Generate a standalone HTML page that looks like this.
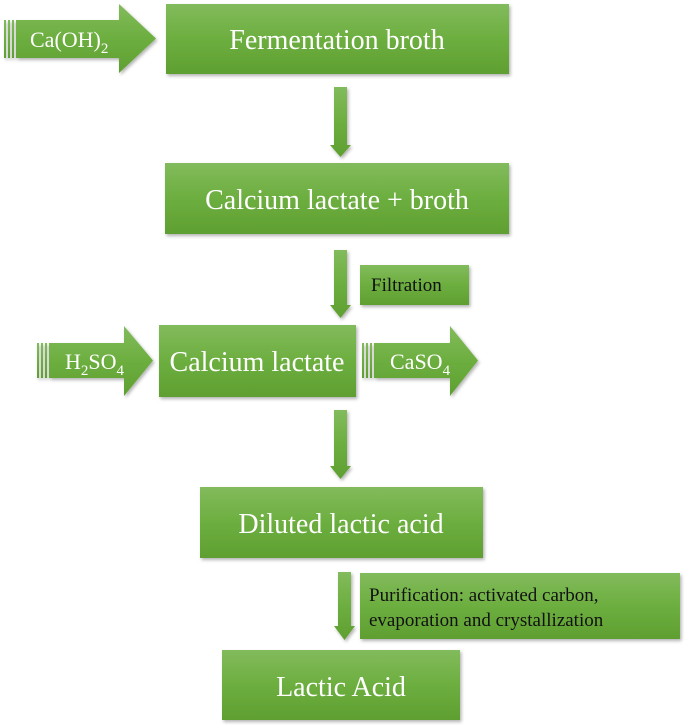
<!DOCTYPE html>
<html><head><meta charset="utf-8"><style>
html,body{margin:0;padding:0;background:#fff;}
svg{display:block;}
</style></head><body>
<svg width="685" height="725" viewBox="0 0 685 725" xmlns="http://www.w3.org/2000/svg">
<defs>
<linearGradient id="g" x1="0" y1="0" x2="0" y2="1">
<stop offset="0" stop-color="#82bb5c"/><stop offset="0.5" stop-color="#6cae3f"/><stop offset="1" stop-color="#5f9f31"/>
</linearGradient>
<filter id="s" x="-10%" y="-10%" width="125%" height="130%"><feDropShadow dx="1.5" dy="2" stdDeviation="1.5" flood-color="#000" flood-opacity="0.3"/></filter>
</defs>
<g fill="url(#g)" filter="url(#s)">
<rect x="166" y="4" width="343" height="70"/>
<rect x="165" y="163" width="344" height="71"/>
<rect x="159" y="325" width="197" height="72"/>
<rect x="200" y="487" width="283" height="71"/>
<rect x="222" y="650" width="238" height="70"/>
<rect x="360" y="265" width="109" height="40"/>
<rect x="360" y="573" width="320" height="66"/>
<polygon points="334,87 347,87 347,145 351,145 340.5,157 330,145 334,145"/>
<polygon points="334,250 347,250 347,305 351,305 340.5,318 330,305 334,305"/>
<polygon points="334,410 347,410 347,466 351,466 340.5,479 330,466 334,466"/>
<polygon points="338,572 351,572 351,626 355,626 344.5,640 334,626 338,626"/>
<g>
<rect x="4" y="20" width="2" height="38"/><rect x="8" y="20" width="2" height="38"/><rect x="12" y="20" width="2" height="38"/>
<polygon points="16,20 119,20 119,4 156,38.5 119,73 119,58 16,58"/>
</g>
<g>
<rect x="37" y="343" width="2" height="35"/><rect x="41" y="343" width="2" height="35"/><rect x="45" y="343" width="2" height="35"/>
<polygon points="49,343 124,343 124,326 153,360.5 124,396 124,378 49,378"/>
</g>
<g>
<rect x="362" y="343" width="2" height="35"/><rect x="366" y="343" width="2" height="35"/><rect x="370" y="343" width="2" height="35"/>
<polygon points="374,343 450,343 450,326 478,360.5 450,396 450,378 374,378"/>
</g>
</g>
<g fill="#fff" font-size="28" text-anchor="middle" font-family="'Liberation Serif','Times New Roman',serif">
<text x="337" y="49">Fermentation broth</text>
<text x="337" y="209">Calcium lactate + broth</text>
<text x="257" y="371">Calcium lactate</text>
<text x="341" y="533">Diluted lactic acid</text>
<text x="341" y="696">Lactic Acid</text>
</g>
<g fill="#fff" font-size="22" font-family="'Liberation Serif','Times New Roman',serif">
<text x="30" y="47">Ca(OH)<tspan font-size="15" dy="6">2</tspan></text>
<text x="65" y="369">H<tspan font-size="15" dy="6">2</tspan><tspan dy="-6">SO</tspan><tspan font-size="15" dy="6">4</tspan></text>
<text x="390" y="369">CaSO<tspan font-size="15" dy="6">4</tspan></text>
</g>
<g fill="#111" font-size="19" font-family="'Liberation Serif','Times New Roman',serif">
<text x="371" y="291">Filtration</text>
<text x="369" y="601">Purification: activated carbon,</text>
<text x="369" y="626">evaporation and crystallization</text>
</g>
</svg>
</body></html>
